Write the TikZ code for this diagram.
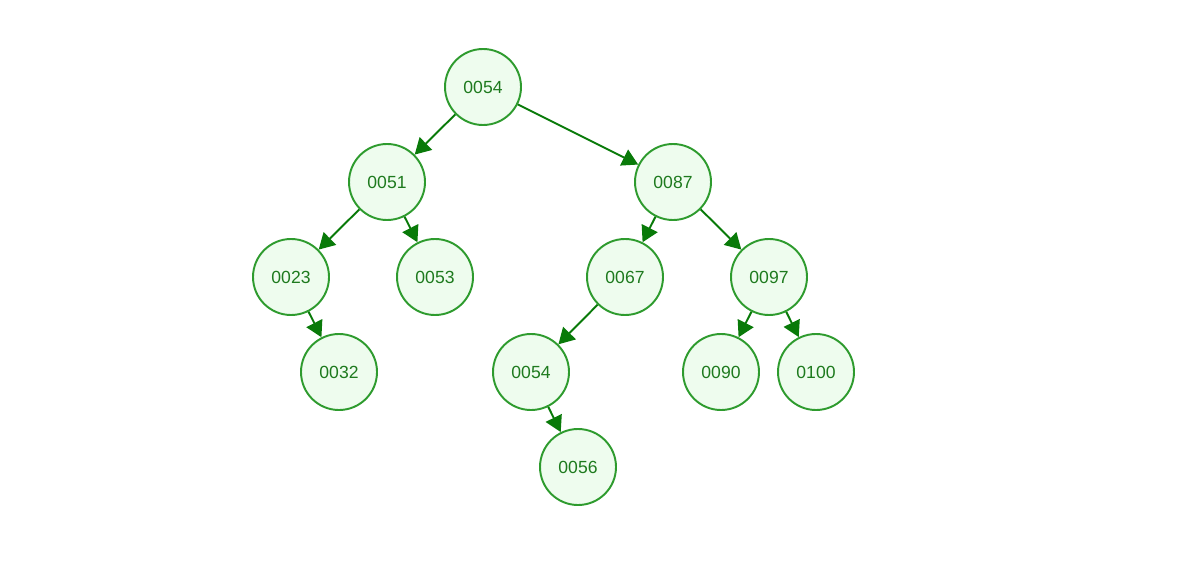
\documentclass[tikz,border=0pt]{standalone}
\usepackage{fontspec}
\setmainfont{Liberation Sans}
\usepackage{tikz}
\usetikzlibrary{arrows.meta, positioning}
\usepackage{xcolor}
\definecolor{nodofondo}{HTML}{EEFCEE}
\definecolor{nodoborde}{HTML}{2E9B2E}
\definecolor{nodotexto}{HTML}{1E7A1E}
\definecolor{flecha}{HTML}{097A09}

\begin{document}
\begin{tikzpicture}[scale=1.0,
		nodo/.style={circle, draw=nodoborde, fill=nodofondo, line width=1.1pt,
			minimum size=1.52cm, inner sep=0pt, text=nodotexto,
			font=\fontsize{10}{12}\selectfont},
		rama/.style={draw=flecha, line width=1.1pt,
			-{Triangle[length=9pt, width=10pt]}}]
			\useasboundingbox (0,0) rectangle (24,11.48);

			% Raiz
			\node[nodo] (r) at (9.66, 9.74) {0054};

			% Nivel 1
			\node[nodo] (n51) at (7.74, 7.84) {0051};
			\node[nodo] (n87) at (13.46, 7.84) {0087};

			% Nivel 2
			\node[nodo] (n23) at (5.82, 5.94) {0023};
			\node[nodo] (n53) at (8.70, 5.94) {0053};
			\node[nodo] (n67) at (12.50, 5.94) {0067};
			\node[nodo] (n97) at (15.38, 5.94) {0097};

			% Nivel 3
			\node[nodo] (n32) at (6.78, 4.04) {0032};
			\node[nodo] (n54) at (10.62, 4.04) {0054};
			\node[nodo] (n90) at (14.42, 4.04) {0090};
			\node[nodo] (n100) at (16.32, 4.04) {0100};

			% Nivel 4
			\node[nodo] (n56) at (11.56, 2.14) {0056};

			% Ramas
			\draw[rama] (r) -- (n51);
			\draw[rama] (r) -- (n87);
			\draw[rama] (n51) -- (n23);
			\draw[rama] (n51) -- (n53);
			\draw[rama] (n87) -- (n67);
			\draw[rama] (n87) -- (n97);
			\draw[rama] (n23) -- (n32);
			\draw[rama] (n67) -- (n54);
			\draw[rama] (n97) -- (n90);
			\draw[rama] (n97) -- (n100);
			\draw[rama] (n54) -- (n56);
		\end{tikzpicture}
\end{document}
